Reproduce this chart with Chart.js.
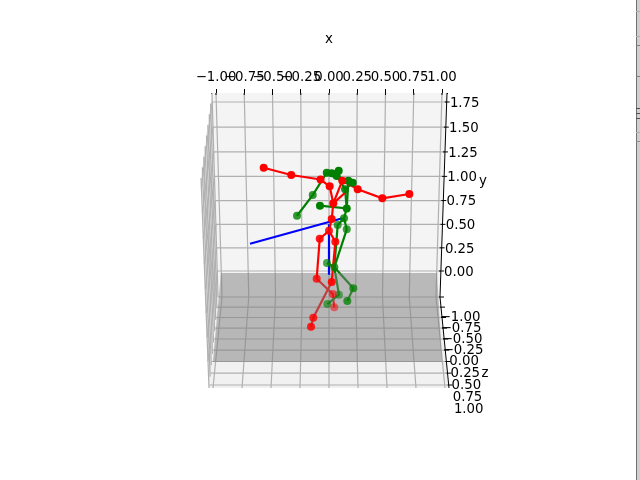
<!DOCTYPE html>
<html>
<head>
<meta charset="utf-8">
<title>pose</title>
<script src="https://cdn.jsdelivr.net/npm/chart.js@4/dist/chart.umd.js"></script>
<style>
  body { margin: 0; background: #fff; }
  canvas { display: block; }
</style>
</head>
<body>
<canvas id="pose_chart" width="640" height="480"></canvas>
<script>
'use strict';
// tick values of the three axes
var xTicks = [-1, -0.75, -0.5, -0.25, 0, 0.25, 0.5, 0.75, 1];
var yTicks = [0, 0.25, 0.5, 0.75, 1, 1.25, 1.5, 1.75];
var zTicks = [-1, -0.75, -0.5, -0.25, 0, 0.25, 0.5, 0.75, 1];

// red skeleton joints
var redX = [-0.578, -0.334, -0.075, 0.006, 0.038, 0.118, 0.254, 0.472, 0.711, 0.024, 0, -0.082, 0.056, -0.109, 0.024, 0.033, 0.047, -0.139, -0.159, 0.159];
var redY = [1.089, 1.014, 0.968, 0.898, 0.721, 0.956, 0.867, 0.773, 0.818, 0.556, 0.432, 0.347, 0.315, -0.08, -0.114, -0.238, -0.376, -0.484, -0.577, 0.849];
var redShade = [1, 1, 1, 1, 1, 1, 1, 1, 1, 0.95, 0.85, 0.9, 0.9, 0.8, 0.9, 0.6, 0.5, 0.8, 0.85, 0];
var redBones = [[0, 1, 2, 3, 4], [4, 5, 6, 7, 8], [4, 9, 10], [10, 11, 13], [10, 12, 14], [4, 19]];
var redBonesUnder = [[13, 15, 16], [14, 17, 18]];

// green skeleton joints
var greenX = [-0.283, -0.144, -0.02, 0.024, 0.053, 0.086, 0.068, 0.171, 0.21, 0.142, 0.157, -0.08, 0.133, 0.077, 0.157, -0.018, 0.047, 0.215, 0.162, 0.088, -0.015];
var greenY = [0.591, 0.807, 1.038, 1.032, 1.024, 1.059, 1.004, 0.956, 0.935, 0.867, 0.668, 0.696, 0.564, 0.492, 0.447, 0.087, 0.04, -0.179, -0.311, -0.245, -0.342];
var greenShade = [0.8, 0.8, 0.95, 1, 1, 1, 1, 1, 1, 0.9, 1, 1, 0.8, 0.75, 0.75, 0.7, 0.8, 0.75, 0.75, 0.55, 0.6];
var greenBones = [[0, 1, 2, 3, 4, 5], [4, 6, 9, 8, 7, 6], [7, 10], [9, 10], [11, 10, 12], [12, 13, 16], [12, 14, 16], [15, 16]];
var greenBonesUnder = [[16, 17, 18], [16, 19, 20]];

// blue lines
var blueX = [-0.699, 0.119, 0, 0];
var blueY = [0.294, 0.564, 0.5, -0.04];
var blueBones = [[0, 1], [2, 3]];

// grey plane
var floorX = [-0.956, 0.956, 1, -1.027];
var floorY = [-0.02, -0.02, -0.942, -0.942];

var font = "'DejaVu Sans', sans-serif";
var fontSize = 13.3;
var minus = '\u2212';

// pane corners in canvas pixels, the box is only a backdrop
var wallTop = 93, wallBottom = 297, paneBottom = 388;
var strip = [[11, '#b0b0b0'], [36, '#b0b0b0'], [45, '#808080'], [76, '#808080'], [108, '#505050'], [113, '#505050'], [118, '#505050'], [132, '#b0b0b0'], [141, '#909090']];

function tickText(v) {
    return (v < 0 ? minus : '') + Math.abs(v).toFixed(2);
}
function leftEdge(py) { return 212 + 6 * (py - wallTop) / (wallBottom - wallTop); }
function rightEdge(py) { return 447 - 7 * (py - wallTop) / (wallBottom - wallTop); }
function floorLeft(py) { return 218 - 9 * (py - wallBottom) / (paneBottom - wallBottom); }
function floorRight(py) { return 440 + 9 * (py - wallBottom) / (paneBottom - wallBottom); }

// the y and z axes are not quite even on screen, a small bow fixes the tick spacing
class PaneScale extends Chart.LinearScale {
    getPixelForValue(value) {
        var px = super.getPixelForValue(value);
        var t = (value - this.options.bowFrom) / (this.options.bowTo - this.options.bowFrom);
        return t > 0 && t < 1 ? px + this.options.bow * 4 * t * (1 - t) : px;
    }
}
PaneScale.id = 'pane';
Chart.register(PaneScale);

function seg(ctx, x1, y1, x2, y2) {
    ctx.beginPath();
    ctx.moveTo(x1, y1);
    ctx.lineTo(x2, y2);
    ctx.stroke();
}
function poly(ctx, pts, color) {
    ctx.fillStyle = color;
    ctx.beginPath();
    pts.forEach(function (p, i) {
        if (i === 0) ctx.moveTo(p[0], p[1]); else ctx.lineTo(p[0], p[1]);
    });
    ctx.closePath();
    ctx.fill();
}

var paneBox = {
    id: 'paneBox',
    beforeDatasetsDraw: function (chart) {
        var ctx = chart.ctx, xs = chart.scales.x, ys = chart.scales.y, zs = chart.scales.zAxis;
        var mid = xs.getPixelForValue(0);
        ctx.save();
        // strip of the next figure at the right edge
        ctx.fillStyle = '#cfcfcf';
        ctx.fillRect(637, 0, 3, 480);
        ctx.fillStyle = '#707070';
        ctx.fillRect(636, 0, 1, 480);
        strip.forEach(function (s) {
            ctx.fillStyle = s[1];
            ctx.fillRect(636, s[0], 4, 1);
        });

        poly(ctx, [[212, wallTop], [201, 178], [209, paneBottom], [218, wallBottom]], '#e8e8e8');
        poly(ctx, [[212, wallTop], [447, wallTop], [440, wallBottom], [218, wallBottom]], '#f4f4f4');
        poly(ctx, [[218, wallBottom], [440, wallBottom], [449, paneBottom], [209, paneBottom]], '#f1f1f1');

        ctx.strokeStyle = '#b0b0b0';
        ctx.lineWidth = 1.2;
        // side pane, seen almost edge on
        yTicks.forEach(function (v) {
            var py = ys.getPixelForValue(v), f = (wallBottom - py) / (wallBottom - wallTop);
            seg(ctx, leftEdge(py), py, 209 - f * 8, paneBottom - f * 210);
        });
        zTicks.forEach(function (v, i) {
            var f = i / (zTicks.length - 1);
            seg(ctx, 212 - 11 * f, wallTop + 85 * f, 218 - 9 * f, wallBottom + 91 * f);
        });
        // back wall and bottom pane
        xTicks.forEach(function (v) {
            var off = xs.getPixelForValue(v) - mid;
            seg(ctx, mid + off, wallTop, mid + off * 107 / 113, wallBottom);
            seg(ctx, mid + off * 107 / 113, wallBottom, mid + off * 116 / 113, paneBottom);
        });
        yTicks.forEach(function (v) {
            var py = ys.getPixelForValue(v);
            seg(ctx, leftEdge(py), py, rightEdge(py), py);
        });
        zTicks.forEach(function (v) {
            var py = zs.getPixelForValue(v);
            seg(ctx, floorLeft(py), py, floorRight(py), py);
        });
        ctx.restore();
    },
    afterDatasetDraw: function (chart, args) {
        // the plane goes over the lower legs, so it sits in the dataset order
        if (chart.data.datasets[args.index].label !== 'floor') return;
        var pts = args.meta.data.map(function (p) { return [p.x, p.y]; });
        chart.ctx.save();
        poly(chart.ctx, pts, 'rgba(125, 125, 125, 0.5)');
        chart.ctx.restore();
    },
    afterDatasetsDraw: function (chart) {
        var ctx = chart.ctx, xs = chart.scales.x, ys = chart.scales.y, zs = chart.scales.zAxis;
        ctx.save();
        ctx.strokeStyle = '#000';
        ctx.fillStyle = '#000';
        ctx.lineWidth = 1;
        ctx.font = fontSize + 'px ' + font;
        ctx.textAlign = 'center';
        ctx.textBaseline = 'middle';
        xTicks.forEach(function (v) {
            var px = xs.getPixelForValue(v);
            seg(ctx, px, wallTop, px, wallTop + 2);
        });
        seg(ctx, 447, wallTop, 440, wallBottom);
        seg(ctx, 440, wallBottom, 449, paneBottom);
        yTicks.forEach(function (v) {
            var py = ys.getPixelForValue(v), ax = rightEdge(py);
            seg(ctx, ax - 2, py, ax + 3, py);
            ctx.fillText(tickText(v), ax + 18, py + 1.5);
        });
        zTicks.forEach(function (v, i) {
            var py = zs.getPixelForValue(v), ax = floorRight(py);
            seg(ctx, ax - 1, py, ax + 4, py);
            ctx.fillText(tickText(v), ax + 20, py + 21 + 4 * i / (zTicks.length - 1));
        });
        ctx.fillText('y', 483, 182);
        ctx.fillText('z', 485, 374);
        ctx.restore();
    }
};

function chain(xs, ys, bones, color, order) {
    return bones.map(function (b) {
        return {
            label: 'bone',
            data: b.map(function (i) { return { x: xs[i], y: ys[i] }; }),
            showLine: true,
            borderColor: color,
            borderWidth: 2.2,
            pointRadius: 0,
            clip: false,
            order: order
        };
    });
}
function joints(xs, ys, shade, rgb, order) {
    return [{
        label: 'joints',
        data: xs.map(function (x, i) { return { x: x, y: ys[i] }; }),
        showLine: false,
        pointRadius: shade.map(function (a) { return a > 0 ? 4 : 0; }),
        pointBorderWidth: 0,
        pointBackgroundColor: shade.map(function (a) { return 'rgba(' + rgb + ',' + a + ')'; }),
        clip: false,
        order: order
    }];
}

// higher order is painted first
var datasets = [].concat(
    chain(greenX, greenY, greenBonesUnder, '#008000', 8),
    chain(redX, redY, redBonesUnder, '#ff0000', 8),
    [{
        label: 'floor',
        data: floorX.map(function (x, i) { return { x: x, y: floorY[i] }; }),
        showLine: false,
        pointRadius: 0,
        clip: false,
        order: 7
    }],
    chain(blueX, blueY, blueBones, '#0000ff', 6),
    chain(greenX, greenY, greenBones, '#008000', 5),
    chain(redX, redY, redBones, '#ff0000', 4),
    joints(greenX, greenY, greenShade, '0,128,0', 3),
    joints(redX, redY, redShade, '255,0,0', 2)
);

new Chart(document.getElementById('pose_chart').getContext('2d'), {
    type: 'scatter',
    data: { datasets: datasets },
    plugins: [paneBox],
    options: {
        responsive: false,
        animation: false,
        layout: { padding: { left: 211, right: 193, top: 0, bottom: 92 } },
        plugins: { legend: { display: false }, tooltip: { enabled: false } },
        scales: {
            x: {
                type: 'linear',
                position: 'top',
                min: -118 / 113,
                max: 118 / 113,
                afterFit: function (s) { s.height = 93; },
                afterBuildTicks: function (s) {
                    s.ticks = xTicks.map(function (v) { return { value: v }; });
                },
                grid: { drawOnChartArea: false, tickLength: 4, tickColor: '#000', tickWidth: 1 },
                border: { display: true, color: '#000', width: 1 },
                ticks: {
                    autoSkip: false,
                    maxRotation: 0,
                    minRotation: 0,
                    padding: 3,
                    color: '#000',
                    font: { family: font, size: fontSize },
                    callback: function (v) { return tickText(v); }
                },
                title: {
                    display: true,
                    text: 'x',
                    color: '#000',
                    font: { family: font, size: fontSize },
                    padding: { top: 32, bottom: 0 }
                }
            },
            y: {
                type: 'pane',
                position: 'right',
                display: false,
                min: -117 / 96.57,
                max: 178 / 96.57,
                bowFrom: 0,
                bowTo: 1.75,
                bow: 2
            },
            zAxis: {
                type: 'pane',
                axis: 'y',
                position: 'right',
                display: false,
                reverse: true,
                min: -1 - 204 / 44,
                max: 1 + 3 / 44,
                bowFrom: -1,
                bowTo: 1,
                bow: -2
            }
        }
    }
});
</script>
</body>
</html>
